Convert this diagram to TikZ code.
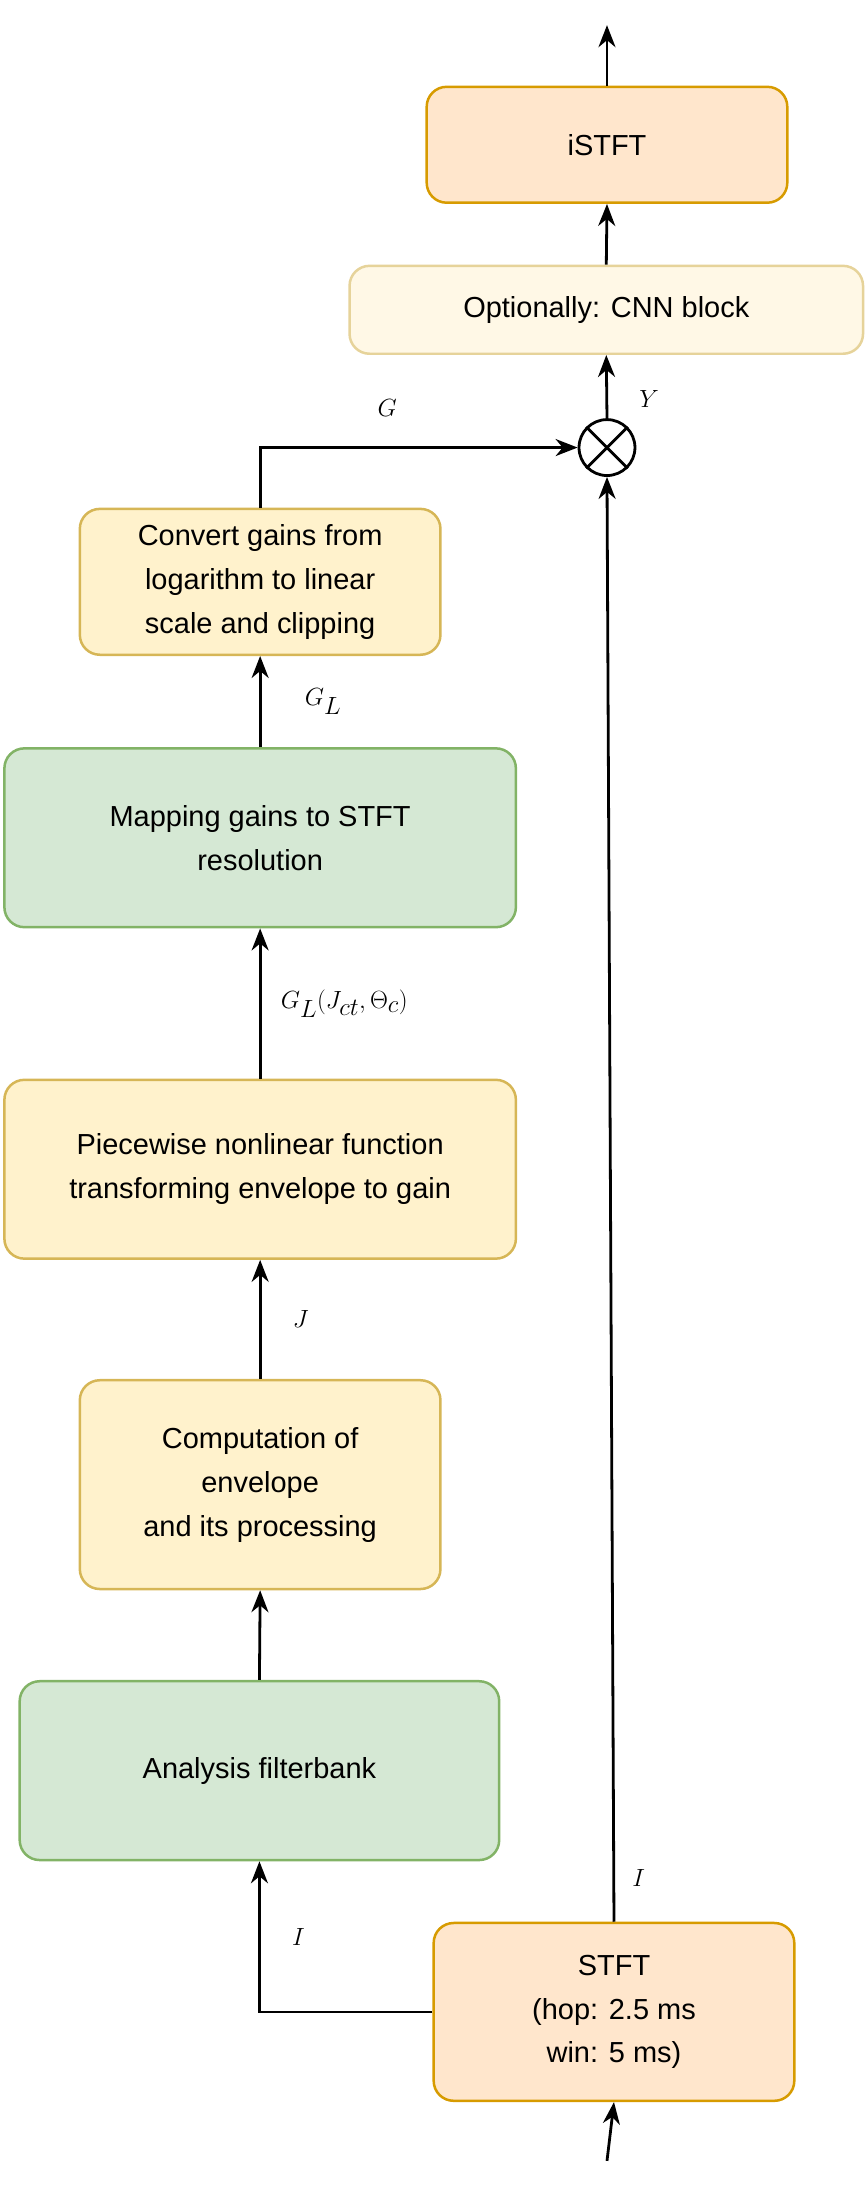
\documentclass[tikz,border=0pt]{standalone}
\usepackage{fontspec}
\setmainfont{Liberation Sans}
\usepackage{amsmath}
\usetikzlibrary{arrows.meta}
\definecolor{orangefill}{HTML}{FFE6CC}
\definecolor{orangeline}{HTML}{D79B00}
\definecolor{yellowfill}{HTML}{FFF2CC}
\definecolor{yellowline}{HTML}{D6B656}
\definecolor{greenfill}{HTML}{D5E8D4}
\definecolor{greenline}{HTML}{82B366}
\tikzset{
    block/.style={draw, rounded corners=20pt, line width=2.5pt, align=center,
        font=\fontsize{29}{44}\selectfont, inner sep=0pt},
    orangebox/.style={block, fill=orangefill, draw=orangeline},
    yellowbox/.style={block, fill=yellowfill, draw=yellowline},
    greenbox/.style={block, fill=greenfill, draw=greenline},
    flow/.style={line width=2.8pt, -{Stealth[length=22pt,width=17pt,inset=7pt]}},
    lbl/.style={font=\fontsize{34}{40}\selectfont}
}
\begin{document}
\begin{tikzpicture}[x=1.4pt,y=-1.4pt]
    \useasboundingbox (0,0) rectangle (620,1568);
    \node[orangebox, minimum width=361pt, minimum height=116pt] (istft) at (434,103.5) {iSTFT};
    \node[yellowbox, fill=yellowfill!50, draw=yellowline!60, minimum width=514pt, minimum height=88pt] (cnn) at (433.5,221.5) {Optionally: CNN block};
    \node[draw, circle, line width=2.8pt, minimum size=56pt, inner sep=0pt] (mult) at (434,320) {};
    \draw[line width=2.8pt] (mult.north west) -- (mult.south east) (mult.north east) -- (mult.south west);
    \node[yellowbox, minimum width=361pt, minimum height=146pt] (convert) at (186,416) {Convert gains from\\logarithm to linear\\scale and clipping};
    \node[greenbox, minimum width=512pt, minimum height=179pt] (mapping) at (186,599) {Mapping gains to STFT\\resolution};
    \node[yellowbox, minimum width=512pt, minimum height=179pt] (piecewise) at (186,836) {Piecewise nonlinear function\\transforming envelope to gain};
    \node[yellowbox, minimum width=361pt, minimum height=209pt] (envelope) at (186,1061.5) {Computation of\\envelope\\and its processing};
    \node[greenbox, minimum width=480pt, minimum height=179pt] (analysis) at (185.5,1266) {Analysis filterbank};
    \node[orangebox, minimum width=361pt, minimum height=178pt] (stft) at (439,1438.5) {STFT\\(hop: 2.5 ms\\win: 5 ms)};
    \coordinate (input) at (434,1545);
    \coordinate (output) at (434,18);

    % signal path
    \draw[flow] (input) -- (stft.south);
    \draw[flow] (stft.north) -- (mult.south) node[lbl, pos=0.03, right=14pt] {$I$};
    \draw[flow] (stft.west) -| (analysis.south) node[lbl, pos=0.75, right=28pt] {$I$};
    \draw[flow] (analysis.north) -- (envelope.south);
    \draw[flow] (envelope.north) -- (piecewise.south) node[lbl, midway, right=28pt] {$J$};
    \draw[flow] (piecewise.north) -- (mapping.south) node[lbl, midway, right=16pt] {$G_L(J_{ct},\Theta_c)$};
    \draw[flow] (mapping.north) -- (convert.south) node[lbl, midway, right=40pt] {$G_L$};
    \draw[flow] (convert.north) |- (mult.west) node[lbl, pos=0.7, above=26pt] {$G$};
    \draw[flow] (mult.north) -- (cnn.south) node[lbl, pos=0.3, right=28pt] {$Y$};
    \draw[flow] (cnn.north) -- (istft.south);
    \draw[flow] (istft.north) -- (output);
\end{tikzpicture}
\end{document}
